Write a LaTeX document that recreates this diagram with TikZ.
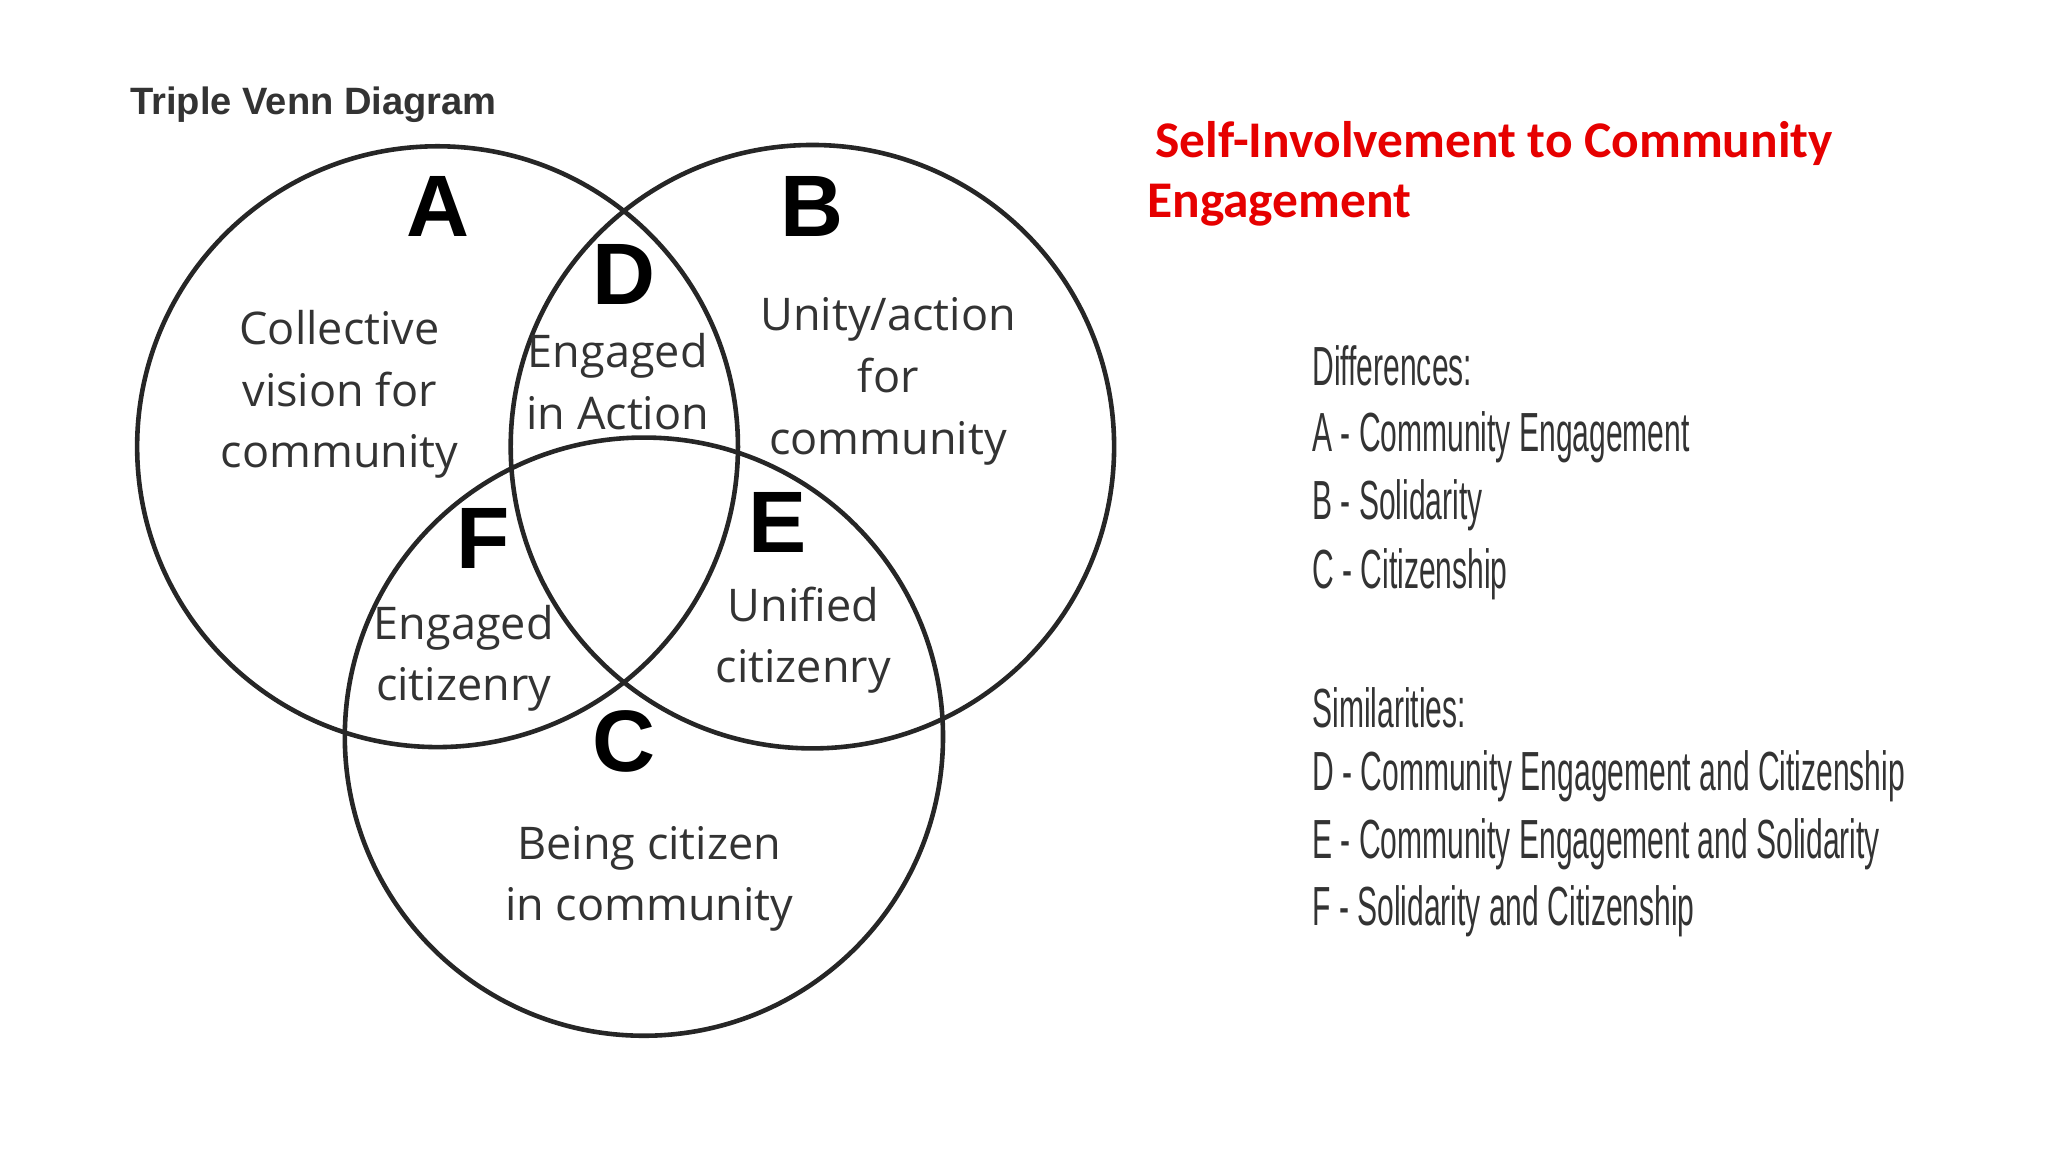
\documentclass[tikz,border=0pt]{standalone}
\usepackage{fontspec}
\setmainfont{Open Sans}
\newfontfamily\arialf{Liberation Sans}
\newfontfamily\calf{Carlito}
\definecolor{myred}{RGB}{230,0,0}
\begin{document}
\begin{tikzpicture}[x=0.01cm,y=-0.01cm,
  circ/.style={draw=black!85,line width=1pt},
  letter/.style={font=\arialf\bfseries\fontsize{19}{19}\selectfont},
  lab/.style={align=center,font=\fontsize{9.8}{13.4}\selectfont,text=black!80},
  item/.style={anchor=west,xscale=0.545,transform shape,font=\arialf\fontsize{12}{12}\selectfont,text=black!80}]
\useasboundingbox (0,0) rectangle (1568,882);
\node[font=\arialf\bfseries\fontsize{8.3}{8.3}\selectfont,text=black!80] (title) at (240,80) {Triple Venn Diagram};
\draw[circ] (335,342) circle (230);
\draw[circ] (622,342) circle (231);
\draw[circ] (493,564) circle (229);
\node[letter] (A) at (335,158) {A};
\node[letter] (B) at (622,158) {B};
\node[letter] (D) at (478,210) {D};
\node[letter] (F) at (370,412) {F};
\node[letter] (E) at (595,400) {E};
\node[letter] (C) at (478,568) {C};
\node[lab] (la) at (260,302) {Collective\\vision for\\community};
\node[lab] (ld) at (473,292) {Engaged\\in Action};
\node[lab] (lb) at (680,292) {Unity/action\\for\\community};
\node[lab] (lf) at (355,504) {Engaged\\citizenry};
\node[lab] (le) at (615,490) {Unified\\citizenry};
\node[lab] (lc) at (497,673) {Being citizen\\in community};
\node[anchor=west,font=\calf\bfseries\fontsize{11.2}{11.2}\selectfont,text=myred] (r1) at (872,110) {Self-Involvement to Community};
\node[anchor=west,font=\calf\bfseries\fontsize{11.2}{11.2}\selectfont,text=myred] (r2) at (866,157) {Engagement};
\node[item] (i1) at (998,280) {Differences:};
\node[item] (i2) at (998,335) {A - Community Engagement};
\node[item] (i3) at (998,387) {B - Solidarity};
\node[item] (i4) at (998,440) {C - Citizenship};
\node[item] (i5) at (998,542) {Similarities:};
\node[item] (i6) at (998,594) {D - Community Engagement and Citizenship};
\node[item] (i7) at (998,646) {E - Community Engagement and Solidarity};
\node[item] (i8) at (998,698) {F - Solidarity and Citizenship};
\end{tikzpicture}
\end{document}
